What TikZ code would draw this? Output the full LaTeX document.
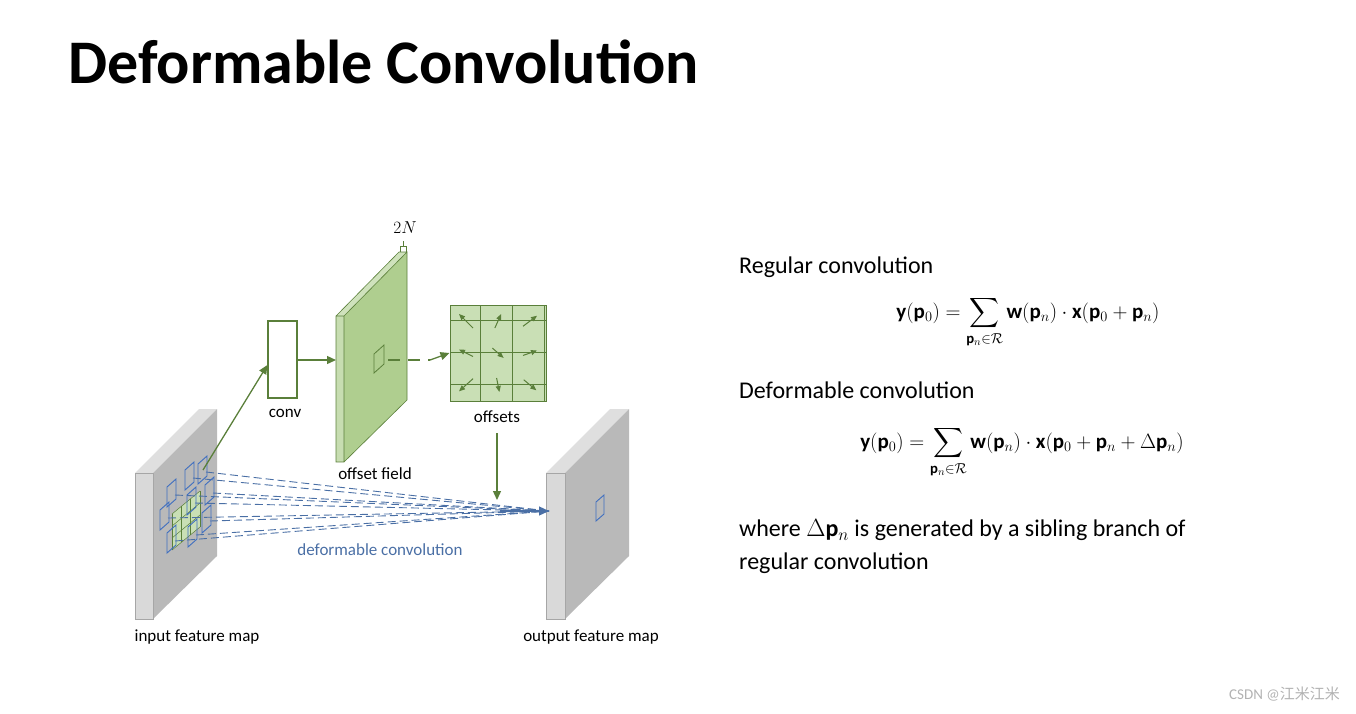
\documentclass[tikz,border=0pt]{standalone}
\usepackage{amsmath}
\usepackage{fontspec}
\setmainfont{Carlito}
\newfontfamily\cjk{Noto Sans CJK SC}
\usetikzlibrary{arrows.meta,calc}
\definecolor{gdk}{HTML}{5A7F3A}
\definecolor{gfl}{HTML}{AFCE8F}
\definecolor{gcell}{HTML}{C9DFB5}
\definecolor{bl}{HTML}{4A6FA5}
\definecolor{bbox}{HTML}{3F6FC0}
\tikzset{
  garrow/.style={draw=gdk,line width=1.3pt,-{Triangle[length=9pt,width=8pt]}},
  face/.style={draw=gray!70,line width=0.4pt},
  lbl/.style={font=\fontsize{17}{20}\selectfont,inner sep=0pt},
  rtext/.style={font=\fontsize{24}{29}\selectfont,anchor=west,inner sep=0pt},
  fml/.style={font=\fontsize{21}{25}\selectfont,inner sep=0pt},
  bdash/.style={draw=bl,dashed,dash pattern=on 8pt off 4pt,line width=0.9pt},
  bpar/.style={draw=bbox,line width=0.9pt},
}
\begin{document}
\begin{tikzpicture}[x=1pt,y=-1pt]
\useasboundingbox (0,0) rectangle (1356,713);
\node[anchor=west,inner sep=0pt,font=\fontsize{62}{70}\selectfont\bfseries] (title) at (68,62) {Deformable Convolution};
% input feature map
\fill[gray!25] (135,473) -- (153,473) -- (217,409) -- (199,409) -- cycle;
\fill[gray!55] (153,473) -- (217,409) -- (217,556) -- (153,619) -- cycle;
\fill[gray!30] (135,473) rectangle (153,619);
\draw[face] (135,473) rectangle (153,619);
% output feature map
\fill[gray!25] (546,473) -- (565,473) -- (629,409) -- (610,409) -- cycle;
\fill[gray!55] (565,473) -- (629,409) -- (629,556) -- (565,619) -- cycle;
\fill[gray!30] (546,473) rectangle (565,619);
\draw[face] (546,473) rectangle (565,619);
\coordinate (tgt) at (549,511);
% green grid on input
\begin{scope}[shift={(172,550)}]
 \fill[gcell] (0,0) -- (28,-23) -- (28,-59) -- (0,-36) -- cycle;
 \foreach \i in {0,1,2,3}{
   \draw[gdk,line width=0.5pt] ({9.33*\i},{-7.67*\i}) -- ({9.33*\i},{-7.67*\i-36});
   \draw[gdk,line width=0.5pt] (0,{-12*\i}) -- (28,{-12*\i-23});}
\end{scope}
% blue parallelograms and dashed lines
\foreach \n/\px/\py in {a/167/507,b/185/490,c/198/484,d/205/505,e/187/515,f/160/530,g/202/533,h/188/547,i/167/553}{
  \coordinate (p\n) at (\px,\py);
  \draw[bdash] ($(p\n)+(8,-12)$) -- (tgt);
  \draw[bpar] (p\n) -- ++(9,-8) -- ++(0,-20) -- ++(-9,8) -- cycle;
}
\draw[draw=bl,line width=1.2pt,-{Triangle[length=10pt,width=9pt]}] (500,511) -- (tgt);
\node[lbl,text=bl] (dc) at (380,550) {deformable convolution};
\draw[bpar] (596,521) -- ++(8,-7) -- ++(0,-19) -- ++(-8,7) -- cycle;
% conv
\node[draw=gdk,line width=1.2pt,fill=white,minimum width=29pt,minimum height=77pt,inner sep=0pt] (conv) at (282.5,359.5) {};
\node[lbl] (convl) at (285,413) {conv};
\draw[garrow] (203,470) -- (conv.south west |- 0,365);
% offset field
\fill[gfl!60] (336,316) -- (344,316) -- (407,252) -- (399,252) -- cycle;
\fill[gfl] (344,316) -- (407,252) -- (407,400) -- (344,462) -- cycle;
\fill[gfl!70] (336,316) rectangle (344,462);
\draw[gdk,line width=0.6pt] (336,316) rectangle (344,462) (344,316) -- (407,252) -- (407,400) -- (344,462) (336,316) -- (399,252) -- (407,252);
\coordinate (field) at (336,360);
\draw[gdk,line width=0.8pt] (400,252) -- (400,246) -- (406,246) -- (406,252) (403,246) -- (403,241);
\node[inner sep=0pt,font=\fontsize{17}{20}\selectfont] (twoN) at (405,228) {$2N$};
\node[lbl] (fieldl) at (375,474) {offset field};
\draw[gdk,line width=0.8pt] (374,373) -- (384,364) -- (384,345) -- (374,354) -- cycle;
\draw[garrow] (conv.east |- 0,360) -- (field);
% offsets grid
\node[draw=gdk,minimum size=96pt,inner sep=0pt,line width=1pt] (grid) at (498,353) {};
\fill[gcell] (450,305) rectangle (546,401);
\draw[gdk,line width=1pt,step=32pt] (450,305) grid (546,401);
\draw[gdk,line width=1pt] (450,305) rectangle (546,401);
\draw[gdk,line width=1.2pt,dash pattern=on 12pt off 8pt] (388,360) -- (430,360);
\draw[garrow] (430,360) -- (grid.west);
\foreach \cx/\cy/\dx/\dy in {466/321/-1/-1, 498/321/0.45/-1, 530/321/1/-0.75,
  466/353/-1/-0.5, 498/353/0.8/0.7, 530/353/1/-0.35,
  466/385/-1/0.9, 498/385/0.2/1, 530/385/0.9/0.75}{
  \draw[gdk,line width=1pt,-{Triangle[length=6pt,width=5pt]}] ({\cx-7*\dx},{\cy-7*\dy}) -- ({\cx+7*\dx},{\cy+7*\dy});
}
\node[lbl] (offl) at (497,417) {offsets};
\draw[garrow] (497,433) -- (497,500);
\node[lbl] (inl) at (197,637) {input feature map};
\node[lbl] (outl) at (591,637) {output feature map};
% right text
\node[rtext] (t1) at (739,267) {Regular convolution};
\node[fml] (f1) at (1028,322) {$\displaystyle \mathbf{y}(\mathbf{p}_0)=\sum_{\mathbf{p}_n\in\mathcal{R}}\mathbf{w}(\mathbf{p}_n)\cdot\mathbf{x}(\mathbf{p}_0+\mathbf{p}_n)$};
\node[rtext] (t2) at (739,390) {Deformable convolution};
\node[fml] (f2) at (1022,452) {$\displaystyle \mathbf{y}(\mathbf{p}_0)=\sum_{\mathbf{p}_n\in\mathcal{R}}\mathbf{w}(\mathbf{p}_n)\cdot\mathbf{x}(\mathbf{p}_0+\mathbf{p}_n+\Delta\mathbf{p}_n)$};
\node[rtext] (t3) at (739,530) {where $\Delta\mathbf{p}_n$ is generated by a sibling branch of};
\node[rtext] (t4) at (739,563) {regular convolution};
\node[anchor=east,inner sep=0pt,text=gray!60,font=\fontsize{15}{18}\selectfont] (wm) at (1340,694) {CSDN @{\cjk 江米江米}};
\end{tikzpicture}
\end{document}
